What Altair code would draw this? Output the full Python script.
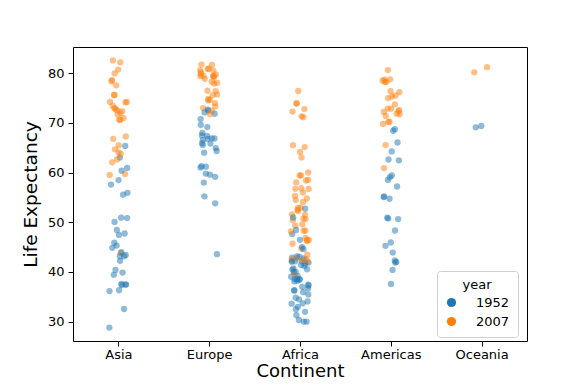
import altair as alt
import pandas as pd

continents = ["Asia", "Europe", "Africa", "Americas", "Oceania"]

asia_countries = ["Afghanistan", "Bahrain", "Bangladesh", "Cambodia", "China", "Hong Kong", "India",
                  "Indonesia", "Iran", "Iraq", "Israel", "Japan", "Jordan", "Korea Dem. Rep.", "Korea Rep.",
                  "Kuwait", "Lebanon", "Malaysia", "Mongolia", "Myanmar", "Nepal", "Oman", "Pakistan",
                  "Philippines", "Saudi Arabia", "Singapore", "Sri Lanka", "Syria", "Taiwan", "Thailand",
                  "Vietnam", "West Bank and Gaza", "Yemen Rep."]
asia_1952 = [28.801, 50.939, 37.484, 39.417, 44.0, 60.96, 37.373, 37.468, 44.869, 45.32, 65.39, 63.03,
             43.158, 50.056, 47.453, 55.565, 55.928, 48.463, 42.244, 36.319, 36.157, 37.578, 43.436,
             47.752, 39.875, 60.396, 57.593, 45.883, 58.5, 50.848, 40.412, 43.16, 32.548]
asia_2007 = [43.828, 75.635, 64.062, 59.723, 72.961, 82.208, 64.698, 70.65, 70.964, 59.545, 80.745, 82.603,
             72.535, 67.297, 78.623, 77.588, 71.993, 74.241, 66.803, 62.069, 63.785, 75.64, 65.483,
             71.688, 72.777, 79.972, 72.396, 74.143, 78.4, 70.616, 74.249, 73.422, 62.698]

europe_countries = ["Albania", "Austria", "Belgium", "Bosnia and Herzegovina", "Bulgaria", "Croatia",
                    "Czech Republic", "Denmark", "Finland", "France", "Germany", "Greece", "Hungary",
                    "Iceland", "Ireland", "Italy", "Montenegro", "Netherlands", "Norway", "Poland",
                    "Portugal", "Romania", "Serbia", "Slovak Republic", "Slovenia", "Spain", "Sweden",
                    "Switzerland", "Turkey", "United Kingdom"]
europe_1952 = [55.23, 66.8, 68.0, 53.82, 59.6, 61.21, 66.87, 70.78, 66.55, 67.41, 67.5, 65.86, 64.03,
               72.49, 66.91, 65.94, 59.164, 72.13, 72.67, 61.31, 59.82, 61.05, 57.996, 64.36, 65.57,
               64.94, 71.86, 69.62, 43.585, 69.18]
europe_2007 = [76.423, 79.829, 79.441, 74.852, 73.005, 75.748, 76.486, 78.332, 79.313, 80.657, 79.406,
               79.483, 73.338, 81.757, 78.885, 80.546, 74.543, 79.762, 80.196, 75.563, 78.098, 72.476,
               74.002, 74.663, 77.926, 80.941, 80.884, 81.701, 71.777, 79.425]

africa_countries = ["Algeria", "Angola", "Benin", "Botswana", "Burkina Faso", "Burundi", "Cameroon",
                    "Central African Republic", "Chad", "Comoros", "Congo Dem. Rep.", "Congo Rep.",
                    "Cote d'Ivoire", "Djibouti", "Egypt", "Equatorial Guinea", "Eritrea", "Ethiopia",
                    "Gabon", "Gambia", "Ghana", "Guinea", "Guinea-Bissau", "Kenya", "Lesotho", "Liberia",
                    "Libya", "Madagascar", "Malawi", "Mali", "Mauritania", "Mauritius", "Morocco",
                    "Mozambique", "Namibia", "Niger", "Nigeria", "Reunion", "Rwanda",
                    "Sao Tome and Principe", "Senegal", "Sierra Leone", "Somalia", "South Africa", "Sudan",
                    "Swaziland", "Tanzania", "Togo", "Tunisia", "Uganda", "Zambia", "Zimbabwe"]
africa_1952 = [43.077, 30.015, 38.223, 47.622, 31.975, 39.031, 38.523, 35.463, 38.092, 40.715, 39.143,
               42.111, 40.477, 34.812, 41.893, 34.482, 35.928, 34.078, 37.003, 30.0, 43.149, 33.609,
               32.5, 42.27, 42.138, 38.48, 42.723, 36.681, 36.256, 33.685, 40.543, 50.986, 42.873,
               31.286, 41.725, 37.444, 36.324, 52.724, 40.0, 46.471, 37.278, 30.331, 32.978, 45.009,
               38.635, 41.407, 41.215, 38.596, 44.6, 39.978, 42.038, 48.451]
africa_2007 = [72.301, 42.731, 56.728, 50.728, 52.295, 49.58, 50.43, 44.741, 50.651, 65.152, 46.462,
               55.322, 48.328, 54.791, 71.338, 51.579, 58.04, 52.947, 56.735, 59.448, 60.022, 56.007,
               46.388, 54.11, 42.592, 45.678, 73.952, 59.443, 48.303, 54.467, 64.164, 72.801, 71.164,
               42.082, 52.906, 56.867, 46.859, 76.442, 46.242, 65.528, 63.062, 42.568, 48.159, 49.339,
               58.556, 39.613, 52.517, 58.42, 73.923, 51.542, 42.384, 43.487]

americas_countries = ["Argentina", "Bolivia", "Brazil", "Canada", "Chile", "Colombia", "Costa Rica",
                      "Cuba", "Dominican Republic", "Ecuador", "El Salvador", "Guatemala", "Haiti",
                      "Honduras", "Jamaica", "Mexico", "Nicaragua", "Panama", "Paraguay", "Peru",
                      "Puerto Rico", "Trinidad and Tobago", "United States", "Uruguay", "Venezuela"]
americas_1952 = [62.485, 40.414, 50.917, 68.75, 54.745, 50.643, 57.206, 59.421, 45.928, 48.357, 45.262,
                 42.023, 37.579, 41.912, 58.53, 50.789, 42.314, 55.191, 62.649, 43.902, 64.28, 59.1,
                 68.44, 66.071, 55.088]
americas_2007 = [75.32, 65.554, 72.39, 80.653, 78.553, 72.889, 78.782, 78.273, 72.235, 74.994, 71.878,
                 70.259, 60.916, 70.198, 72.567, 76.195, 72.899, 75.537, 71.752, 71.421, 78.746, 69.819,
                 78.242, 76.384, 73.747]

oceania_countries = ["Australia", "New Zealand"]
oceania_1952 = [69.12, 69.39]
oceania_2007 = [81.235, 80.204]

years = ["1952", "2007"]
y_ticks = [30, 40, 50, 60, 70, 80]

groups = [
    ("Asia", asia_countries, asia_1952, asia_2007),
    ("Europe", europe_countries, europe_1952, europe_2007),
    ("Africa", africa_countries, africa_1952, africa_2007),
    ("Americas", americas_countries, americas_1952, americas_2007),
    ("Oceania", oceania_countries, oceania_1952, oceania_2007),
]

rows = []
for cont, names, v52, v07 in groups:
    for name, a, b in zip(names, v52, v07):
        rows.append({"country": name, "continent": cont, "year": years[0], "lifeExp": a})
        rows.append({"country": name, "continent": cont, "year": years[1], "lifeExp": b})
df = pd.DataFrame(rows)
df = df.sort_values(["country", "year"]).reset_index(drop=True)
df["idx"] = range(len(df))

font = "DejaVu Sans"
label_expr = "['Asia','Europe','Africa','Americas','Oceania'][datum.value]"

chart = alt.Chart(df).transform_calculate(
    cidx="indexof(['Asia','Europe','Africa','Americas','Oceania'], datum.continent)",
    jit="((datum.idx * 0.6180339887) % 1 - 0.5) * 0.2",
    pos="datum.cidx + datum.jit",
).mark_circle(size=40, opacity=0.5, strokeWidth=0).encode(
    x=alt.X("pos:Q", scale=alt.Scale(domain=[-0.5, 4.5], nice=False, zero=False),
            axis=alt.Axis(values=[0, 1, 2, 3, 4], labelExpr=label_expr, title="Continent",
                          grid=False, domain=False, tickSize=5, labelPadding=2,
                          titleY=35, titleBaseline="alphabetic", titleFontSize=18)),
    y=alt.Y("lifeExp:Q", scale=alt.Scale(domain=[26.1, 85.3], nice=False, zero=False),
            axis=alt.Axis(values=y_ticks, title="Life Expectancy", grid=False, domain=False,
                          tickSize=5, labelPadding=4, titlePadding=7)),
    color=alt.Color("year:N", scale=alt.Scale(domain=years, range=["#1f77b4", "#ff7f0e"]),
                    legend=alt.Legend(title="year", orient="none", legendX=364, legendY=224,
                                      fillColor="white", strokeColor="#d0d0d0", cornerRadius=3,
                                      padding=8, symbolType="circle", symbolSize=85, symbolOpacity=1,
                                      symbolStrokeWidth=0, labelOffset=18, rowPadding=5,
                                      titleAnchor="middle", titleFontWeight="normal",
                                      titleFontSize=13, labelFontSize=13, titlePadding=4)),
).properties(
    width=454, height=294,
    autosize=alt.AutoSizeParams(type="none"),
    padding={"left": 65, "top": 39, "right": 50, "bottom": 37},
).configure(font=font).configure_view(
    stroke="black", strokeWidth=1
).configure_axis(
    labelFont=font, titleFont=font, labelFontSize=13, titleFontSize=18.5, titleFontWeight="normal",
    labelColor="black", titleColor="black", tickColor="black",
).configure_legend(labelFont=font, titleFont=font, labelColor="black", titleColor="black")

chart.save("out.html", embed_options={"renderer": "svg", "actions": False})
